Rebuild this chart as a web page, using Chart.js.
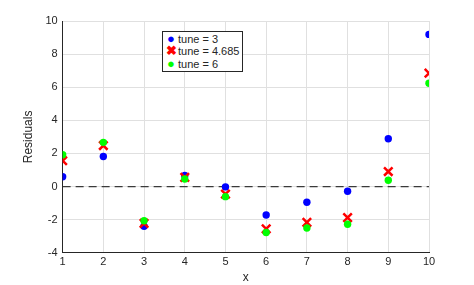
<!DOCTYPE html>
<html>
<head>
<meta charset="utf-8">
<script src="https://cdn.jsdelivr.net/npm/chart.js@4/dist/chart.umd.min.js"></script>
<style>
  html, body { margin: 0; padding: 0; background: #fff; }
  #wrap { position: relative; width: 474px; height: 285px; }
  #legend {
    position: absolute; left: 162px; top: 31px;
    border: 1px solid #262626; background: #fff;
    font-family: "Liberation Sans", Arial, sans-serif; font-size: 11px; color: #262626;
    padding: 1px 3px 1px 3px; line-height: 12.3px;
  }
  #legend div { white-space: nowrap; }
  #legend span.m { display: inline-block; width: 10px; text-align: center; margin-right: 2px; }
</style>
</head>
<body>
<div id="wrap">
  <canvas id="c" width="474" height="285"></canvas>
  <div id="legend"></div>
</div>
<script>
// --- data ---
const xs = [1, 2, 3, 4, 5, 6, 7, 8, 9, 10];
const tune3 = [0.59, 1.82, -2.40, 0.67, -0.02, -1.72, -0.95, -0.28, 2.89, 9.19];
const tune4685 = [1.56, 2.48, -2.22, 0.55, -0.46, -2.55, -2.16, -1.88, 0.91, 6.85];
const tune6 = [1.92, 2.67, -2.06, 0.46, -0.61, -2.77, -2.50, -2.28, 0.38, 6.24];
const seriesLabels = ['tune = 3', 'tune = 4.685', 'tune = 6'];
const yTicks = [-4, -2, 0, 2, 4, 6, 8, 10];

function pts(ys) {
    return xs.map((x, i) => ({ x: x, y: ys[i] }));
}

const axisColor = '#262626';
const gridColor = '#e0e0e0';
const font = { family: '"Liberation Sans", Arial, sans-serif', size: 11 };

const chart = new Chart(document.getElementById('c'), {
    type: 'scatter',
    data: {
        datasets: [
            {
                label: seriesLabels[0], data: pts(tune3), order: 3,
                pointStyle: 'circle', pointRadius: 3.7,
                backgroundColor: '#0000ff', borderColor: '#0000ff', borderWidth: 0
            },
            {
                label: seriesLabels[1], data: pts(tune4685), order: 2,
                pointStyle: 'crossRot', pointRadius: 6,
                backgroundColor: '#ff0000', borderColor: '#ff0000', borderWidth: 2.5
            },
            {
                label: seriesLabels[2], data: pts(tune6), order: 1,
                pointStyle: 'circle', pointRadius: 3.7,
                backgroundColor: '#00ff00', borderColor: '#00ff00', borderWidth: 0
            },
            {
                label: 'zero', type: 'line', order: 4,
                data: [{ x: xs[0], y: 0 }, { x: xs[xs.length - 1], y: 0 }],
                borderColor: '#3a3a3a', borderWidth: 1.2, borderDash: [8, 5],
                pointRadius: 0, fill: false
            }
        ]
    },
    options: {
        responsive: false,
        animation: false,
        layout: { padding: { left: 21, right: 45, top: 21, bottom: 1 } },
        plugins: {
            legend: { display: false },
            tooltip: { enabled: false }
        },
        scales: {
            x: {
                type: 'linear', min: 1, max: 10,
                ticks: { stepSize: 1, color: axisColor, font: font, padding: 3 },
                grid: { color: gridColor, drawTicks: false },
                border: { color: axisColor, width: 1 },
                title: { display: true, text: 'x', color: axisColor, font: { family: font.family, size: 12, lineHeight: 1 }, padding: { top: 0, bottom: 0 } }
            },
            y: {
                type: 'linear', min: -4, max: 10,
                afterBuildTicks: (axis) => { axis.ticks = yTicks.map(v => ({ value: v })); },
                ticks: { color: axisColor, font: font, padding: 5 },
                grid: { color: gridColor, drawTicks: false },
                border: { color: axisColor, width: 1 },
                title: { display: true, text: 'Residuals', color: axisColor, font: { family: font.family, size: 12 }, padding: { top: 0, bottom: 5 } }
            }
        }
    }
});

// legend box inside the plot, as in the original
const legendDiv = document.getElementById('legend');
const markers = [
    '<span class="m" style="color:#0000ff;font-size:13px">&#9679;</span>',
    '<span class="m" style="color:#ff0000;font-weight:bold;font-size:13px">&#10006;</span>',
    '<span class="m" style="color:#00ff00;font-size:13px">&#9679;</span>'
];
legendDiv.innerHTML = seriesLabels.map((l, i) => `<div>${markers[i]}${l}</div>`).join('');
</script>
</body>
</html>
